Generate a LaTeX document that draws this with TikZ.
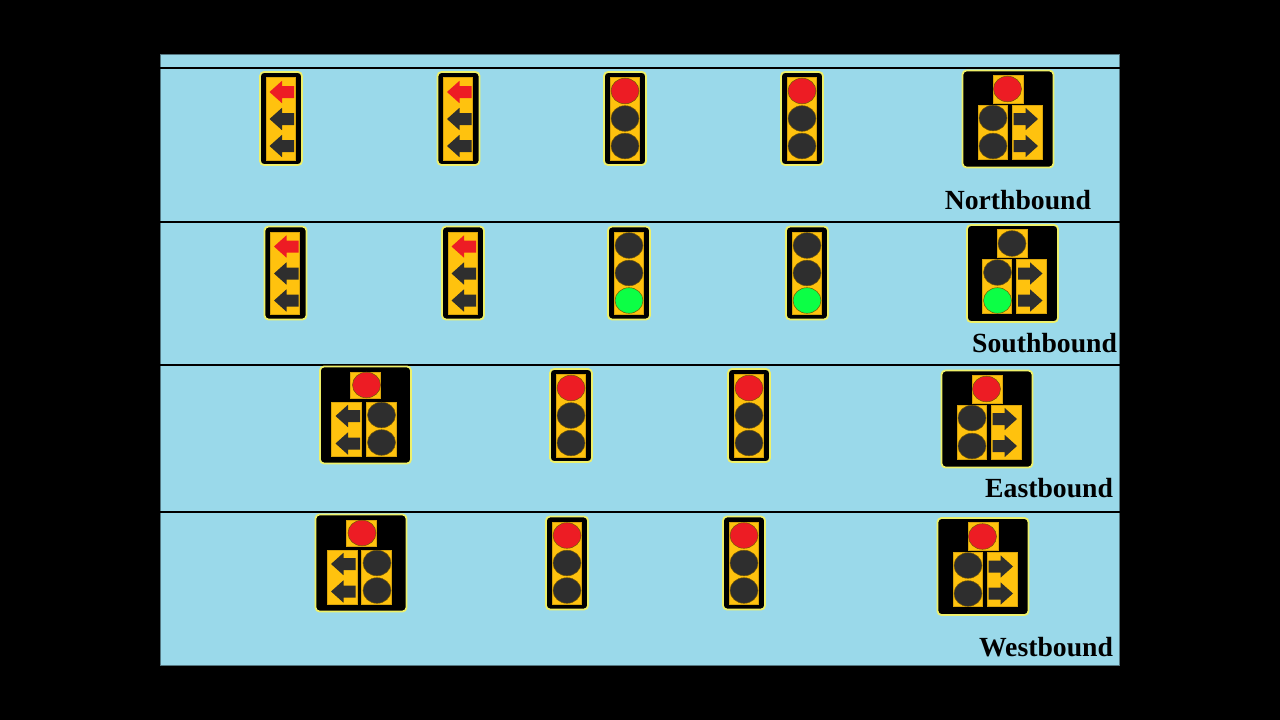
\documentclass[tikz,border=0pt]{standalone}
\usepackage{fontspec}
\setmainfont{Liberation Serif}
\definecolor{panel color}{HTML}{9AD9EA}
\definecolor{amber color}{HTML}{FFC20E}
\definecolor{halo color}{HTML}{EEF06A}
\definecolor{lamp red}{HTML}{ED1C24}
\definecolor{lamp dark}{HTML}{2E2E2E}
\definecolor{lamp green}{HTML}{0CFF45}
\tikzset{
    x={1pt},
    y={-1pt},
    row line/.style={
        draw=black,
        line width={2pt},
    },
    signal back/.style={
        fill=black,
        draw=halo color,
        line width={1.8pt},
        rounded corners={4pt},
    },
    signal face/.style={
        fill=amber color,
        draw=amber color!85!black,
        line width={0.4pt},
    },
    lamp/.style={
        fill={#1},
        draw=amber color!45!black,
        line width={0.5pt},
        x radius=14,
        y radius=12.8,
    },
    direction label/.style={
        font={\bfseries\fontsize{27.7}{32}\selectfont},
        anchor=base east,
        inner sep=0pt,
        outer sep=0pt,
    },
    pics/arrow lamp/.style={
        code={
            \path[fill={#1}] (-11.5,0) -- (1,-11.2) -- (1,-6) -- (13,-6) -- (13,6) -- (1,6) -- (1,11.2) -- cycle;
        },
    },
    pics/arrow signal/.style={
        code={
            \path[signal back] (-21,-46.5) rectangle (21,46.5);
            \path[signal face] (-15,-41) rectangle (14,41.5);
            \pic at (0,-26.5) {arrow lamp={lamp red}};
            \pic at (0,0.5) {arrow lamp={lamp dark}};
            \pic at (0,27.5) {arrow lamp={lamp dark}};
        },
    },
    pics/lamp signal/.style n args={3}{
        code={
            \path[signal back] (-21,-46.5) rectangle (21,46.5);
            \path[signal face] (-15,-41) rectangle (14,41.5);
            \path[lamp={#1}] (0,-27.5) ellipse [];
            \path[lamp={#2}] (0,0) ellipse [];
            \path[lamp={#3}] (0,27.5) ellipse [];
        },
    },
    % lamps on the left, arrows on the right
    pics/wide right/.style n args={3}{
        code={
            \path[signal back] (-45.5,-48.5) rectangle (45.5,48.5);
            \path[signal face] (-15,-44) rectangle (15,-16);
            \path[signal face] (-30,-14) rectangle (-1,40);
            \path[signal face] (4,-14) rectangle (34,40);
            \path[lamp={#1}] (-0.5,-30) ellipse [];
            \path[lamp={#2}] (-15,-1) ellipse [];
            \path[lamp={#3}] (-15,27) ellipse [];
            \pic[xscale=-1] at (18.5,0) {arrow lamp={lamp dark}};
            \pic[xscale=-1] at (18.5,27) {arrow lamp={lamp dark}};
        },
    },
    % arrows on the left, lamps on the right
    pics/wide left/.style={
        code={
            \path[signal back] (-45.5,-48.5) rectangle (45.5,48.5);
            \path[signal face] (-15,-43) rectangle (15,-17);
            \path[signal face] (-34,-13) rectangle (-4,41);
            \path[signal face] (0.5,-13) rectangle (30.5,41);
            \path[lamp={lamp red}] (1,-30) ellipse [];
            \pic at (-18.5,1) {arrow lamp={lamp dark}};
            \pic at (-18.5,28.5) {arrow lamp={lamp dark}};
            \path[lamp={lamp dark}] (16,0) ellipse [];
            \path[lamp={lamp dark}] (16,27.5) ellipse [];
        },
    },
}

\begin{document}
\begin{tikzpicture}
% background
\path[fill=black] (0,0) rectangle (1280,720);
\path[fill=panel color, draw=black!45!panel color, line width={0.5pt}] (160.5,54.5) rectangle (1119.5,665.5);
% rows
\draw[row line] (160,68) -- (1120,68);
\draw[row line] (160,222) -- (1120,222);
\draw[row line] (160,364.5) -- (1120,364.5);
\draw[row line] (160,512) -- (1120,512);
% northbound
\pic at (281,118.5) {arrow signal};
\pic at (458.5,118.5) {arrow signal};
\pic at (625,118.5) {lamp signal={lamp red}{lamp dark}{lamp dark}};
\pic at (802,118.5) {lamp signal={lamp red}{lamp dark}{lamp dark}};
\pic at (1008,119) {wide right={lamp red}{lamp dark}{lamp dark}};
% southbound
\pic at (285.5,273) {arrow signal};
\pic at (463,273) {arrow signal};
\pic at (629,273) {lamp signal={lamp dark}{lamp dark}{lamp green}};
\pic at (807,273) {lamp signal={lamp dark}{lamp dark}{lamp green}};
\pic at (1012.5,273.5) {wide right={lamp dark}{lamp dark}{lamp green}};
% eastbound
\pic at (365.5,415) {wide left};
\pic at (571,415.5) {lamp signal={lamp red}{lamp dark}{lamp dark}};
\pic at (749,415.5) {lamp signal={lamp red}{lamp dark}{lamp dark}};
\pic at (987,419) {wide right={lamp red}{lamp dark}{lamp dark}};
% westbound
\pic at (361,563) {wide left};
\pic at (567,563) {lamp signal={lamp red}{lamp dark}{lamp dark}};
\pic at (744,563) {lamp signal={lamp red}{lamp dark}{lamp dark}};
\pic at (983,566.5) {wide right={lamp red}{lamp dark}{lamp dark}};
% labels
\node[direction label] (northbound) at (1091,209) {Northbound};
\node[direction label] (southbound) at (1117,352) {Southbound};
\node[direction label] (eastbound) at (1113,497) {Eastbound};
\node[direction label] (westbound) at (1113,656) {Westbound};
\end{tikzpicture}
\end{document}
